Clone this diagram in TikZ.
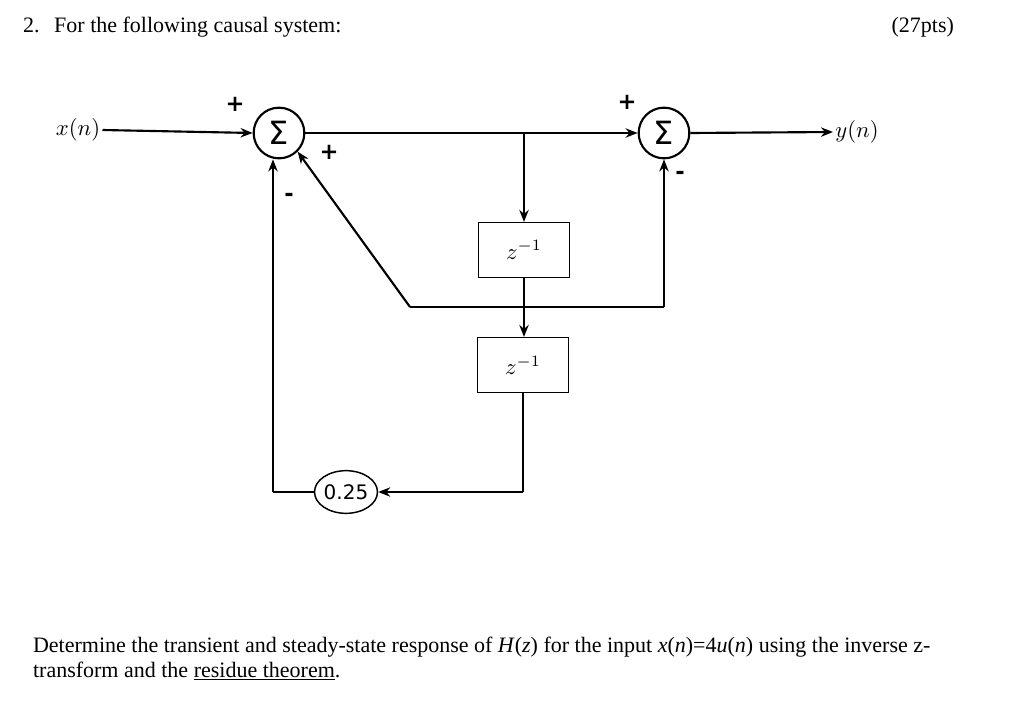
\documentclass[tikz,border=0pt]{standalone}
\usepackage{fontspec}
\setmainfont{Liberation Serif}
\newfontfamily\dvs{DejaVu Sans}
\usetikzlibrary{arrows.meta,shapes.geometric}
\begin{document}
\begin{tikzpicture}[x=0.75pt,y=-0.75pt,line width=1.6pt,
  >={Stealth[length=9pt,width=7pt]},
  sum/.style={draw,circle,minimum size=38pt,inner sep=0pt,font=\dvs\fontsize{24}{24}\selectfont},
  dly/.style={draw,rectangle,line width=1.1pt,minimum width=68pt,minimum height=41pt,inner sep=0pt},
  gain/.style={draw,ellipse,line width=1.1pt,minimum width=42pt,minimum height=32pt,inner sep=0pt,font=\dvs\fontsize{15}{15}\selectfont},
  sg/.style={font=\dvs\fontsize{17}{17}\selectfont\bfseries},
  txt/.style={anchor=base west,inner sep=0pt,font=\fontsize{16.5}{16.5}\selectfont}]
\useasboundingbox (0,0) rectangle (1024,702);
\node[txt] (t1) at (22,33) {2.\hspace{11pt}For the following causal system:};
\node[txt,anchor=base east] (t2) at (955,33) {(27pts)};
\node[txt] (t3) at (32,652) {Determine the transient and steady-state response of \textit{H}(\textit{z}) for the input \textit{x}(\textit{n})=4\textit{u}(\textit{n}) using the inverse z-};
\node[txt] (t4) at (32,677) {transform and the \underline{residue theorem}.};

\node[inner sep=1pt] (x) at (78,130) {\scalebox{1.7}{$x(n)$}};
\node[inner sep=1pt] (y) at (857,132) {\scalebox{1.7}{$y(n)$}};
\node[sum] (s1) at (279,133) {Σ};
\node[sum] (s2) at (664,133) {Σ};
\node[dly] (d1) at (524,250) {\scalebox{1.7}{$z^{-1}$}};
\node[dly] (d2) at (523,365) {\scalebox{1.7}{$z^{-1}$}};
\node[gain] (g) at (346,492) {0.25};
\coordinate (b1) at (524,133);
\coordinate (b2) at (410,307);
\coordinate (b3) at (664,307);
\coordinate (b5) at (523,492);
\coordinate (b6) at (273,492);

\draw[->] (x.east) -- (s1.west);
\draw[->] (s1.east) -- (s2.west);
\draw[->] (s2.east) -- (y.west);
\draw[->] (b1) -- (d1.north);
\draw[->] (d1.south) -- (d1.south |- d2.north);
\draw (b2) -- (b3);
\draw[->] (b3) -- (s2.south);
\draw[->] (b2) -- (s1.-45);
\draw (d2.south) -- (b5);
\draw[->] (b5) -- (g.east);
\draw (g.west) -- (b6);
\draw[->] (b6) -- (s1.south -| b6);

\node[sg] (p1) at (235,104) {+};
\node[sg] (p2) at (329,152) {+};
\node[sg] (m1) at (289,197) {-};
\node[sg] (p3) at (627,102) {+};
\node[sg] (m2) at (680,175) {-};
\end{tikzpicture}
\end{document}
